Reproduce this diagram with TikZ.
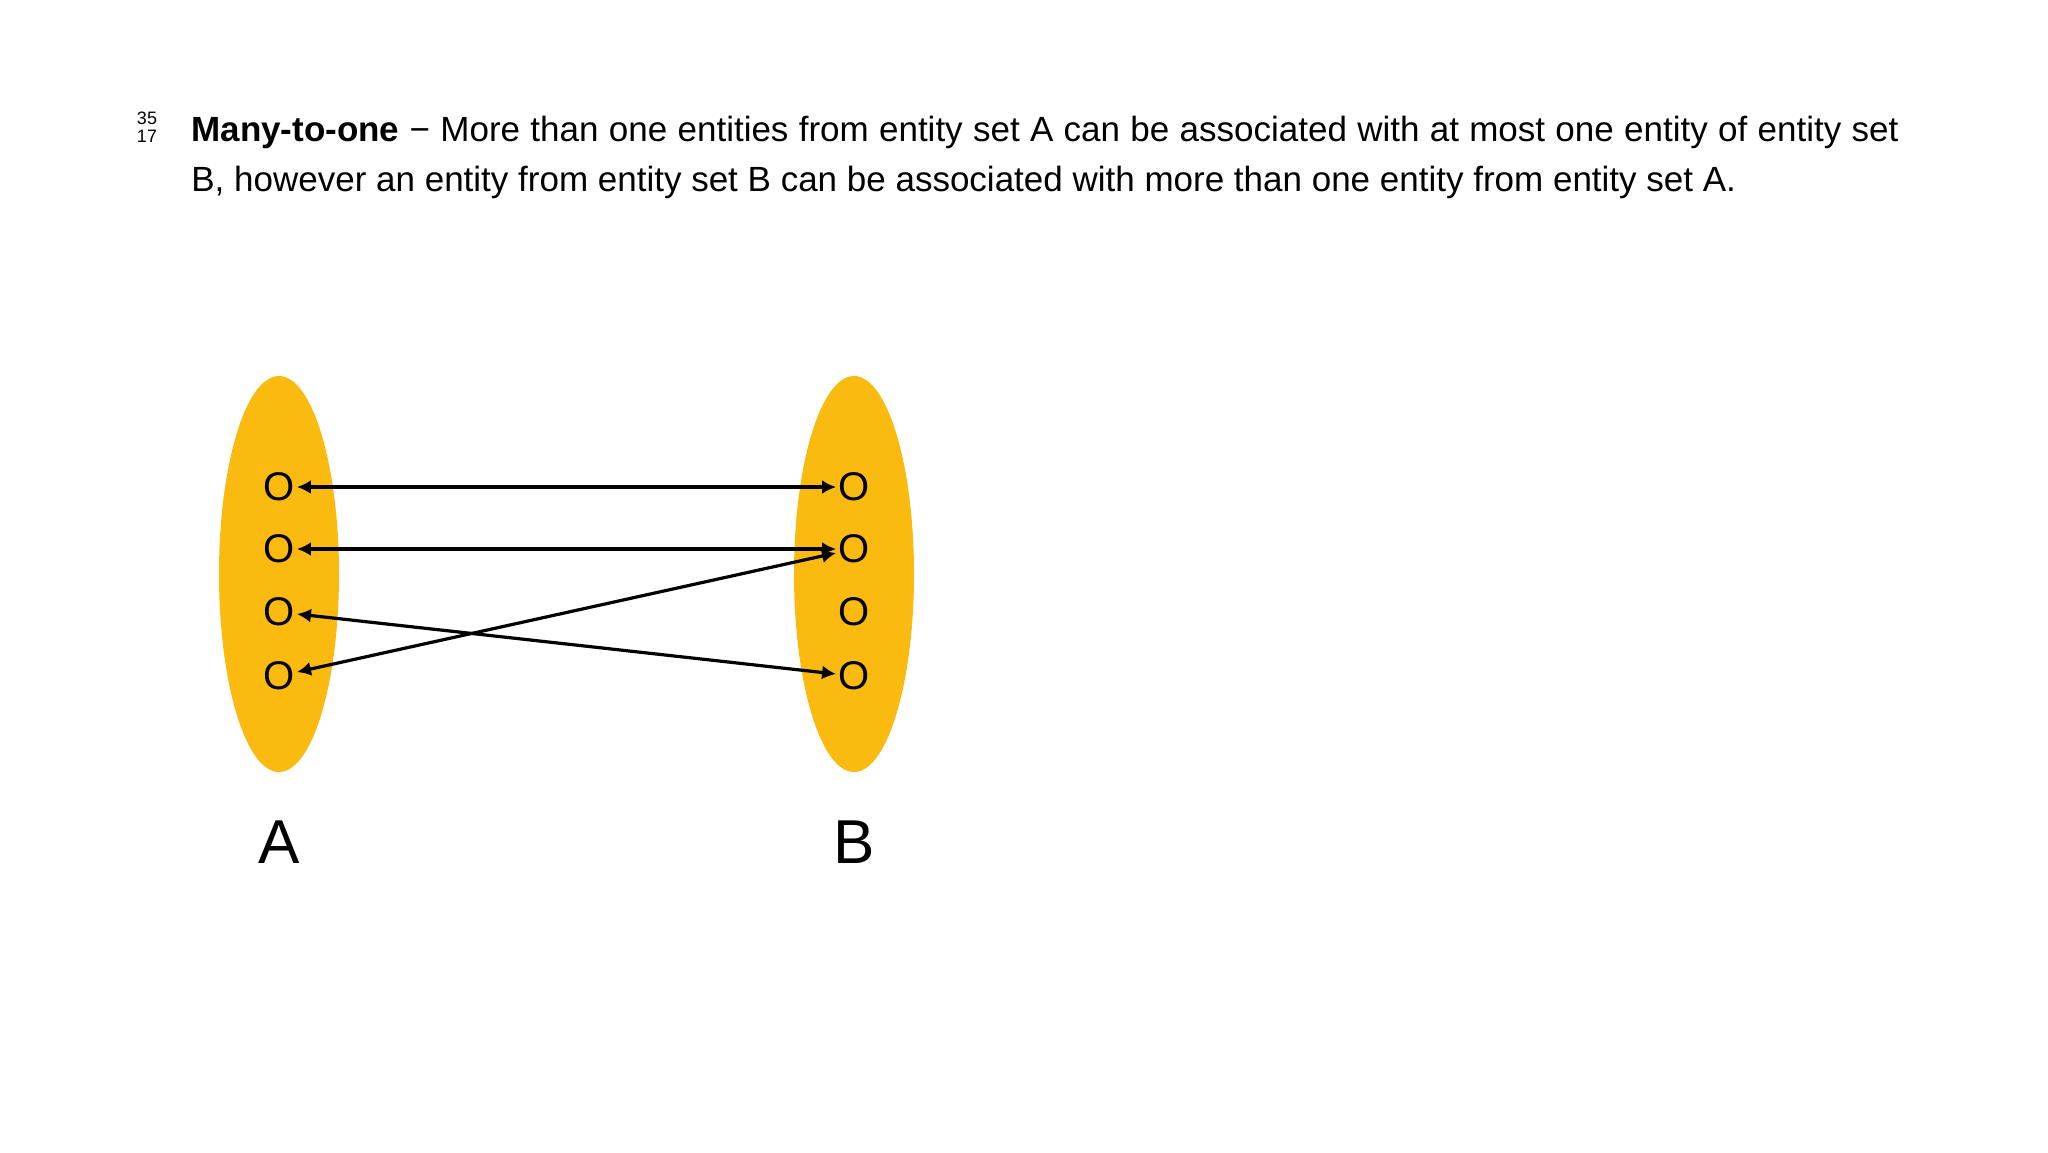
\documentclass[tikz,border=0pt]{standalone}
\usepackage{fontspec}
\setmainfont{Liberation Sans}
\usetikzlibrary{arrows.meta,shapes.geometric}
\definecolor{gold}{HTML}{FBBA10}
\begin{document}
\begin{tikzpicture}[x=0.5pt,y=-0.5pt,
  setshape/.style={ellipse,fill=gold,minimum width=60pt,minimum height=198pt,inner sep=0},
  item/.style={font=\fontsize{20}{20}\selectfont,inner sep=1pt},
  link/.style={line width=1.6pt,{Latex[length=7pt,width=7pt]}-{Latex[length=7pt,width=7pt]}},
  lbl/.style={font=\fontsize{31}{31}\selectfont}]
\useasboundingbox (0,0) rectangle (2048,1152);
\node[anchor=base,font=\fontsize{9}{9}\selectfont,inner sep=0] (s1) at (147,124) {35};
\node[anchor=base,font=\fontsize{9}{9}\selectfont,inner sep=0] (s2) at (147,142) {17};
\node[anchor=north west,inner sep=0,text width=853.5pt,align=justify,font=\fontsize{17.5}{25}\selectfont] (txt) at (191,116)
 {\textbf{Many-to-one} − More than one entities from entity set A can be associated with at most one entity of entity set B, however an entity from entity set B can be associated with more than one entity from entity set A.};
\node[setshape] (EA) at (279,574) {};
\node[setshape] (EB) at (854,574) {};
\foreach \i/\y in {1/487,2/549,3/612,4/676}{
  \node[item] (a\i) at (279,\y) {O};
  \node[item] (b\i) at (854,\y) {O};
}
\draw[link] (a1) -- (b1);
\draw[link] (a2) -- (b2);
\draw[link] (a3) -- (b4);
\draw[link] (a4) -- (b2);
\node[lbl] (LA) at (279,842) {A};
\node[lbl] (LB) at (854,842) {B};
\end{tikzpicture}
\end{document}
